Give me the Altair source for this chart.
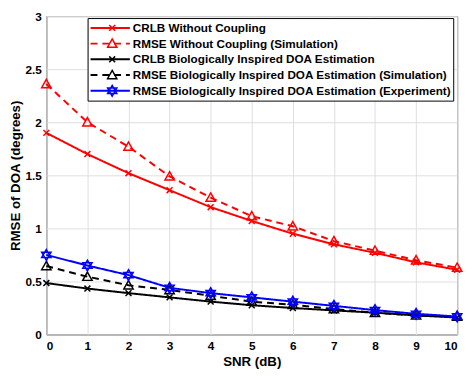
import altair as alt
import pandas as pd

snr = list(range(11))
crlb_nc = [1.90, 1.70, 1.52, 1.36, 1.20, 1.07, 0.95, 0.85, 0.77, 0.68, 0.61]
rmse_nc = [2.36, 2.00, 1.77, 1.49, 1.29, 1.115, 1.02, 0.88, 0.79, 0.70, 0.63]
crlb_bio = [0.485, 0.433, 0.39, 0.35, 0.31, 0.276, 0.25, 0.227, 0.206, 0.18, 0.16]
rmse_bio_sim = [0.645, 0.545, 0.464, 0.42, 0.365, 0.31, 0.28, 0.24, 0.205, 0.18, 0.17]
rmse_bio_exp = [0.75, 0.65, 0.56, 0.44, 0.39, 0.35, 0.31, 0.27, 0.23, 0.195, 0.17]

names = [
    "CRLB Without Coupling",
    "RMSE Without Coupling (Simulation)",
    "CRLB Biologically Inspired DOA Estimation",
    "RMSE Biologically Inspired DOA Estimation (Simulation)",
    "RMSE Biologically Inspired DOA Estimation (Experiment)",
]
series_vals = [crlb_nc, rmse_nc, crlb_bio, rmse_bio_sim, rmse_bio_exp]
colors = ["#ff0000", "#ff0000", "#000000", "#000000", "#0000ff"]
dashes = [[1, 0], [7, 5], [1, 0], [7, 5], [1, 0]]

X_PATH = "M-0.6,-0.6L0.6,0.6M-0.6,0.6L0.6,-0.6"
TRI_PATH = "M0,-0.95L0.95,0.75L-0.95,0.75Z"
HEX_PATH = "M0,-1.1L0.95,0.55L-0.95,0.55ZM0,1.1L0.95,-0.55L-0.95,-0.55Z"
shapes = [X_PATH, TRI_PATH, X_PATH, TRI_PATH, HEX_PATH]

rows = []
for i, (n, vals) in enumerate(zip(names, series_vals)):
    for x, y in zip(snr, vals):
        rows.append({"series": n, "series2": n + " ", "idx": i, "snr": x, "rmse": y})
df = pd.DataFrame(rows)

FONT = "Liberation Sans"
names2 = [n + " " for n in names]

color_scale = alt.Scale(domain=names, range=colors)
dash_scale = alt.Scale(domain=names, range=dashes)
stroke_scale = alt.Scale(domain=names2, range=colors)
shape_scale = alt.Scale(domain=names2, range=shapes)

lines_legend = alt.Legend(
    title=None, orient="none", legendX=42, legendY=2, direction="vertical",
    symbolType="stroke", symbolSize=1600, symbolStrokeWidth=2,
    clipHeight=16, rowPadding=0, padding=2, labelOffset=2,
    labelFont=FONT, labelFontSize=11.9, labelFontWeight="bold", labelColor="#000",
    strokeColor="#000", fillColor="#fff", labelLimit=500, zindex=1,
)
marker_legend = alt.Legend(
    title=None, orient="none", legendX=59, legendY=2, direction="vertical",
    symbolSize=100, symbolStrokeWidth=1.5,
    clipHeight=16, rowPadding=0, padding=2, labelOffset=2,
    labelFont=FONT, labelFontSize=11.9, labelFontWeight="bold",
    labelColor="transparent", labelLimit=500, zindex=2,
)

x_enc = alt.X("snr:Q", scale=alt.Scale(domain=[0, 10], nice=False),
              axis=alt.Axis(title="SNR (dB)", values=list(range(11)), format="d"))
y_enc = alt.Y("rmse:Q", scale=alt.Scale(domain=[0, 3], nice=False),
              axis=alt.Axis(title="RMSE of DOA (degrees)",
                            values=[0, 0.5, 1, 1.5, 2, 2.5, 3], format="~g"))

base = alt.Chart(df)
layers = []
for i in range(len(names)):
    b = base.transform_filter(alt.datum.idx == i)
    line = b.mark_line(strokeWidth=2).encode(
        x=x_enc, y=y_enc,
        color=alt.Color("series:N", scale=color_scale, legend=lines_legend),
        strokeDash=alt.StrokeDash("series:N", scale=dash_scale, legend=lines_legend),
    )
    pts = b.mark_point(filled=False, size=100, strokeWidth=1.5, opacity=1).encode(
        x=x_enc, y=y_enc,
        stroke=alt.Stroke("series2:N", scale=stroke_scale, legend=marker_legend),
        shape=alt.Shape("series2:N", scale=shape_scale, legend=marker_legend),
    )
    layers += [line, pts]

chart = alt.layer(*layers).properties(
    width=418, height=324,
    autosize=alt.AutoSizeParams(type="none"),
    padding={"left": 39, "top": 5, "right": 9, "bottom": 42},
).configure_view(
    stroke="#222", strokeWidth=1
).configure_axis(
    grid=True, gridColor="#dedede", gridWidth=1,
    domain=False, ticks=False,
    labelFont=FONT, labelFontSize=12, labelFontWeight="bold", labelColor="#000",
    labelPadding=5,
    titleFont=FONT, titleFontSize=13.5, titleFontWeight="bold", titleColor="#000",
).configure_axisY(titlePadding=3).configure_axisX(titlePadding=4, labelPadding=6)

chart.save("out.html", embed_options={"renderer": "svg", "actions": False})
